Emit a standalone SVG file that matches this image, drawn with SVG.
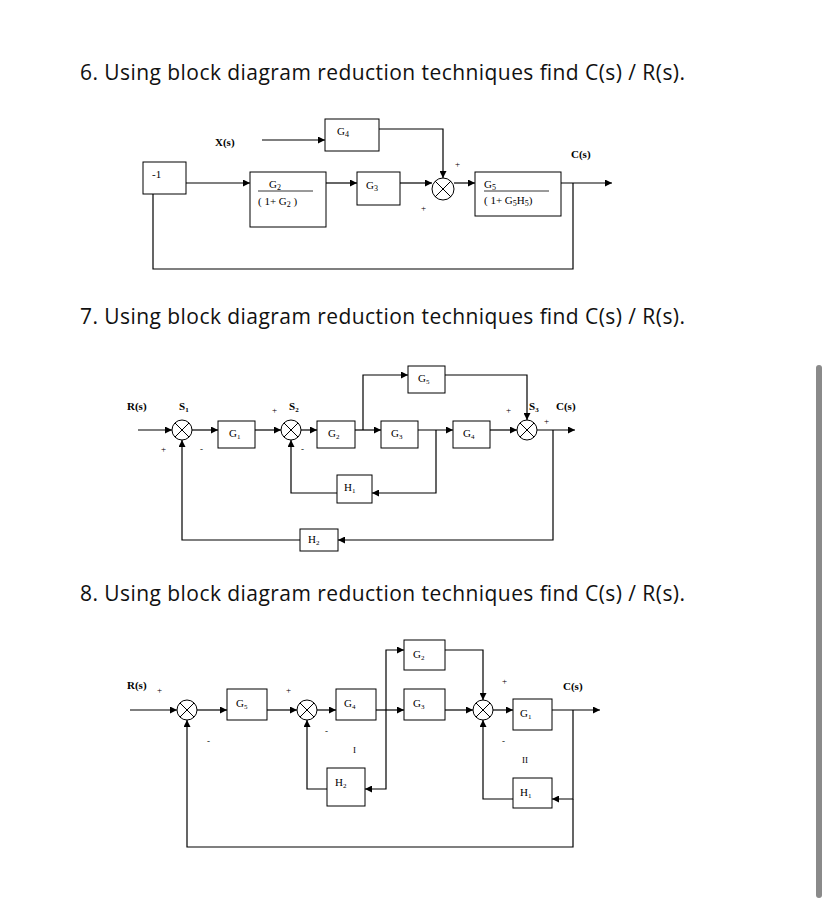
<svg xmlns="http://www.w3.org/2000/svg" width="828" height="898" viewBox="0 0 828 898">
<defs>
<marker id="a" viewBox="0 0 10 10" refX="10" refY="5" markerWidth="7" markerHeight="7" orient="auto" markerUnits="userSpaceOnUse"><path d="M0,0L10,5L0,10z" fill="#000"/></marker>
</defs>
<style>
.t{font-family:"Open Sans","Noto Sans",sans-serif;font-size:21px;fill:#111}
.b{fill:#fff;stroke:#000;stroke-width:1}
.l{fill:none;stroke:#000;stroke-width:1.2}
.ar{marker-end:url(#a)}
.x{font-family:"Liberation Serif",serif;font-size:11px;fill:#000}
.lb{font-family:"Liberation Serif",serif;font-size:11px;font-weight:bold;fill:#000}
.s{font-family:"Liberation Serif",serif;font-size:9px;fill:#000}
.sm{fill:#fff;stroke:#000;stroke-width:1}
</style>
<rect width="828" height="898" fill="#fff"/>
<rect x="816" y="365" width="6" height="533" rx="3" fill="#8a8a8a"/>
<text class="t" x="80" y="80" textLength="605" lengthAdjust="spacing">6.  Using block diagram reduction techniques find C(s) / R(s).</text>
<text class="t" x="80" y="324" textLength="605" lengthAdjust="spacing">7.  Using block diagram reduction techniques find C(s) / R(s).</text>
<text class="t" x="80" y="601" textLength="605" lengthAdjust="spacing">8.  Using block diagram reduction techniques find C(s) / R(s).</text>

<!-- Diagram 6 -->
<g id="d6-connectors">
<path class="l ar" d="M186,183H250"/>
<path class="l ar" d="M326,183H357"/>
<path class="l ar" d="M400,183H432"/>
<path class="l ar" d="M454,183H475"/>
<path class="l ar" d="M561,183H612"/>
<path class="l" d="M573,183V269H153V194"/>
<path class="l ar" d="M262,140H325"/>
<path class="l ar" d="M379,129H443V178"/>
</g>
<g id="d6-m1"><rect class="b" x="143" y="162" width="43" height="32"/><text class="x" x="152" y="178">-1</text></g>
<g id="d6-g2"><rect class="b" x="250" y="172" width="76" height="55"/><text class="x" x="269" y="188">G<tspan font-size="8" dy="2">2</tspan></text><path d="M258,191H313" stroke="#000" stroke-width="0.8"/><text class="x" x="258" y="205">( 1+ G<tspan font-size="8" dy="2">2</tspan><tspan dy="-2"> )</tspan></text></g>
<g id="d6-g3"><rect class="b" x="357" y="172" width="43" height="33"/><text class="x" x="366" y="189">G<tspan font-size="8" dy="2">3</tspan></text></g>
<g id="d6-sum"><circle class="sm" cx="443" cy="189" r="11"/><path d="M435,181L451,197M451,181L435,197" stroke="#000"/><text class="s" x="455" y="167">+</text><text class="s" x="421" y="211">+</text></g>
<g id="d6-g5"><rect class="b" x="475" y="172" width="86" height="44"/><text class="x" x="484" y="188">G<tspan font-size="8" dy="2">5</tspan></text><path d="M484,191H549" stroke="#000" stroke-width="0.8"/><text class="x" x="484" y="204">( 1+ G<tspan font-size="8" dy="2">5</tspan><tspan dy="-2">H</tspan><tspan font-size="8" dy="2">5</tspan><tspan dy="-2">)</tspan></text></g>
<g id="d6-g4"><rect class="b" x="325" y="119" width="54" height="32"/><text class="x" x="337" y="135">G<tspan font-size="8" dy="2">4</tspan></text></g>
<text class="lb" x="215" y="146">X(s)</text>
<text class="lb" x="571" y="158">C(s)</text>

<!-- Diagram 7 -->
<g id="d7-connectors">
<path class="l ar" d="M138,430H172"/>
<path class="l ar" d="M192,430H218"/>
<path class="l ar" d="M255,430H281"/>
<path class="l ar" d="M301,430H317"/>
<path class="l ar" d="M355,430H381"/>
<path class="l ar" d="M363,430V375H408"/>
<path class="l ar" d="M418,430H453"/>
<path class="l ar" d="M490,430H517"/>
<path class="l ar" d="M445,375H527V420"/>
<path class="l ar" d="M537,430H575"/>
<path class="l ar" d="M436,430V493H372"/>
<path class="l ar" d="M337,493H291V440"/>
<path class="l ar" d="M553,430V540H338"/>
<path class="l ar" d="M300,540H182V440"/>
</g>
<g id="d7-s1"><circle class="sm" cx="182" cy="430" r="10"/><path d="M175,423L189,437M189,423L175,437" stroke="#000"/></g>
<g id="d7-s2"><circle class="sm" cx="291" cy="430" r="10"/><path d="M284,423L298,437M298,423L284,437" stroke="#000"/></g>
<g id="d7-s3"><circle class="sm" cx="527" cy="430" r="10"/><path d="M520,423L534,437M534,423L520,437" stroke="#000"/></g>
<g id="d7-g1"><rect class="b" x="218" y="421" width="37" height="27"/><text class="x" x="229" y="437">G<tspan font-size="7" dy="2">1</tspan></text></g>
<g id="d7-g2"><rect class="b" x="317" y="421" width="38" height="27"/><text class="x" x="328" y="437">G<tspan font-size="7" dy="2">2</tspan></text></g>
<g id="d7-g3"><rect class="b" x="381" y="421" width="37" height="27"/><text class="x" x="391" y="437">G<tspan font-size="7" dy="2">3</tspan></text></g>
<g id="d7-g4"><rect class="b" x="453" y="421" width="37" height="27"/><text class="x" x="463" y="437">G<tspan font-size="7" dy="2">4</tspan></text></g>
<g id="d7-g5"><rect class="b" x="408" y="366" width="37" height="27"/><text class="x" x="418" y="382">G<tspan font-size="7" dy="2">5</tspan></text></g>
<g id="d7-h1"><rect class="b" x="337" y="475" width="35" height="28"/><text class="x" x="344" y="491">H<tspan font-size="7" dy="2">1</tspan></text></g>
<g id="d7-h2"><rect class="b" x="300" y="529" width="38" height="22"/><text class="x" x="308" y="543">H<tspan font-size="7" dy="2">2</tspan></text></g>
<text class="lb" x="127" y="410">R(s)</text>
<text class="lb" x="179" y="410">S<tspan font-size="7" dy="2">1</tspan></text>
<text class="lb" x="289" y="410">S<tspan font-size="7" dy="2">2</tspan></text>
<text class="lb" x="529" y="410">S<tspan font-size="7" dy="2">3</tspan></text>
<text class="lb" x="556" y="410">C(s)</text>
<g class="s"><text x="161" y="452">+</text><text x="200" y="452">-</text><text x="272" y="413">+</text><text x="301" y="452">-</text><text x="506" y="413">+</text><text x="544" y="424">+</text></g>

<!-- Diagram 8 -->
<g id="d8-connectors">
<path class="l ar" d="M130,710H177"/>
<path class="l ar" d="M197,710H227"/>
<path class="l ar" d="M267,710H297"/>
<path class="l ar" d="M317,710H336"/>
<path class="l ar" d="M376,710H404"/>
<path class="l ar" d="M386,710V650H404"/>
<path class="l ar" d="M386,710V789H365"/>
<path class="l ar" d="M327,789H307V720"/>
<path class="l ar" d="M445,710H473"/>
<path class="l ar" d="M445,650H483V700"/>
<path class="l ar" d="M493,710H513"/>
<path class="l ar" d="M552,710H600"/>
<path class="l ar" d="M573,710V799H552"/>
<path class="l ar" d="M513,799H483V720"/>
<path class="l ar" d="M573,799V847H187V720"/>
</g>
<g id="d8-sum1"><circle class="sm" cx="187" cy="710" r="10"/><path d="M180,703L194,717M194,703L180,717" stroke="#000"/></g>
<g id="d8-sum2"><circle class="sm" cx="307" cy="710" r="10"/><path d="M300,703L314,717M314,703L300,717" stroke="#000"/></g>
<g id="d8-sum3"><circle class="sm" cx="483" cy="710" r="10"/><path d="M476,703L490,717M490,703L476,717" stroke="#000"/></g>
<g id="d8-g5"><rect class="b" x="227" y="689" width="40" height="31"/><text class="x" x="236" y="707">G<tspan font-size="7" dy="2">5</tspan></text></g>
<g id="d8-g4"><rect class="b" x="336" y="689" width="40" height="31"/><text class="x" x="344" y="707">G<tspan font-size="7" dy="2">4</tspan></text></g>
<g id="d8-g2"><rect class="b" x="404" y="640" width="41" height="30"/><text class="x" x="413" y="658">G<tspan font-size="7" dy="2">2</tspan></text></g>
<g id="d8-g3"><rect class="b" x="404" y="689" width="41" height="31"/><text class="x" x="413" y="707">G<tspan font-size="7" dy="2">3</tspan></text></g>
<g id="d8-g1"><rect class="b" x="513" y="699" width="39" height="31"/><text class="x" x="520" y="717">G<tspan font-size="7" dy="2">1</tspan></text></g>
<g id="d8-h2"><rect class="b" x="327" y="768" width="38" height="38"/><text class="x" x="335" y="786">H<tspan font-size="7" dy="2">2</tspan></text></g>
<g id="d8-h1"><rect class="b" x="513" y="778" width="39" height="30"/><text class="x" x="520" y="796">H<tspan font-size="7" dy="2">1</tspan></text></g>
<text class="lb" x="127" y="689">R(s)</text>
<text class="lb" x="563" y="690">C(s)</text>
<g class="s"><text x="157" y="693">+</text><text x="286" y="693">+</text><text x="207" y="744">-</text><text x="325" y="734">-</text><text x="353" y="753">I</text><text x="502" y="684">+</text><text x="502" y="744">-</text><text x="522" y="763">II</text></g>
</svg>
